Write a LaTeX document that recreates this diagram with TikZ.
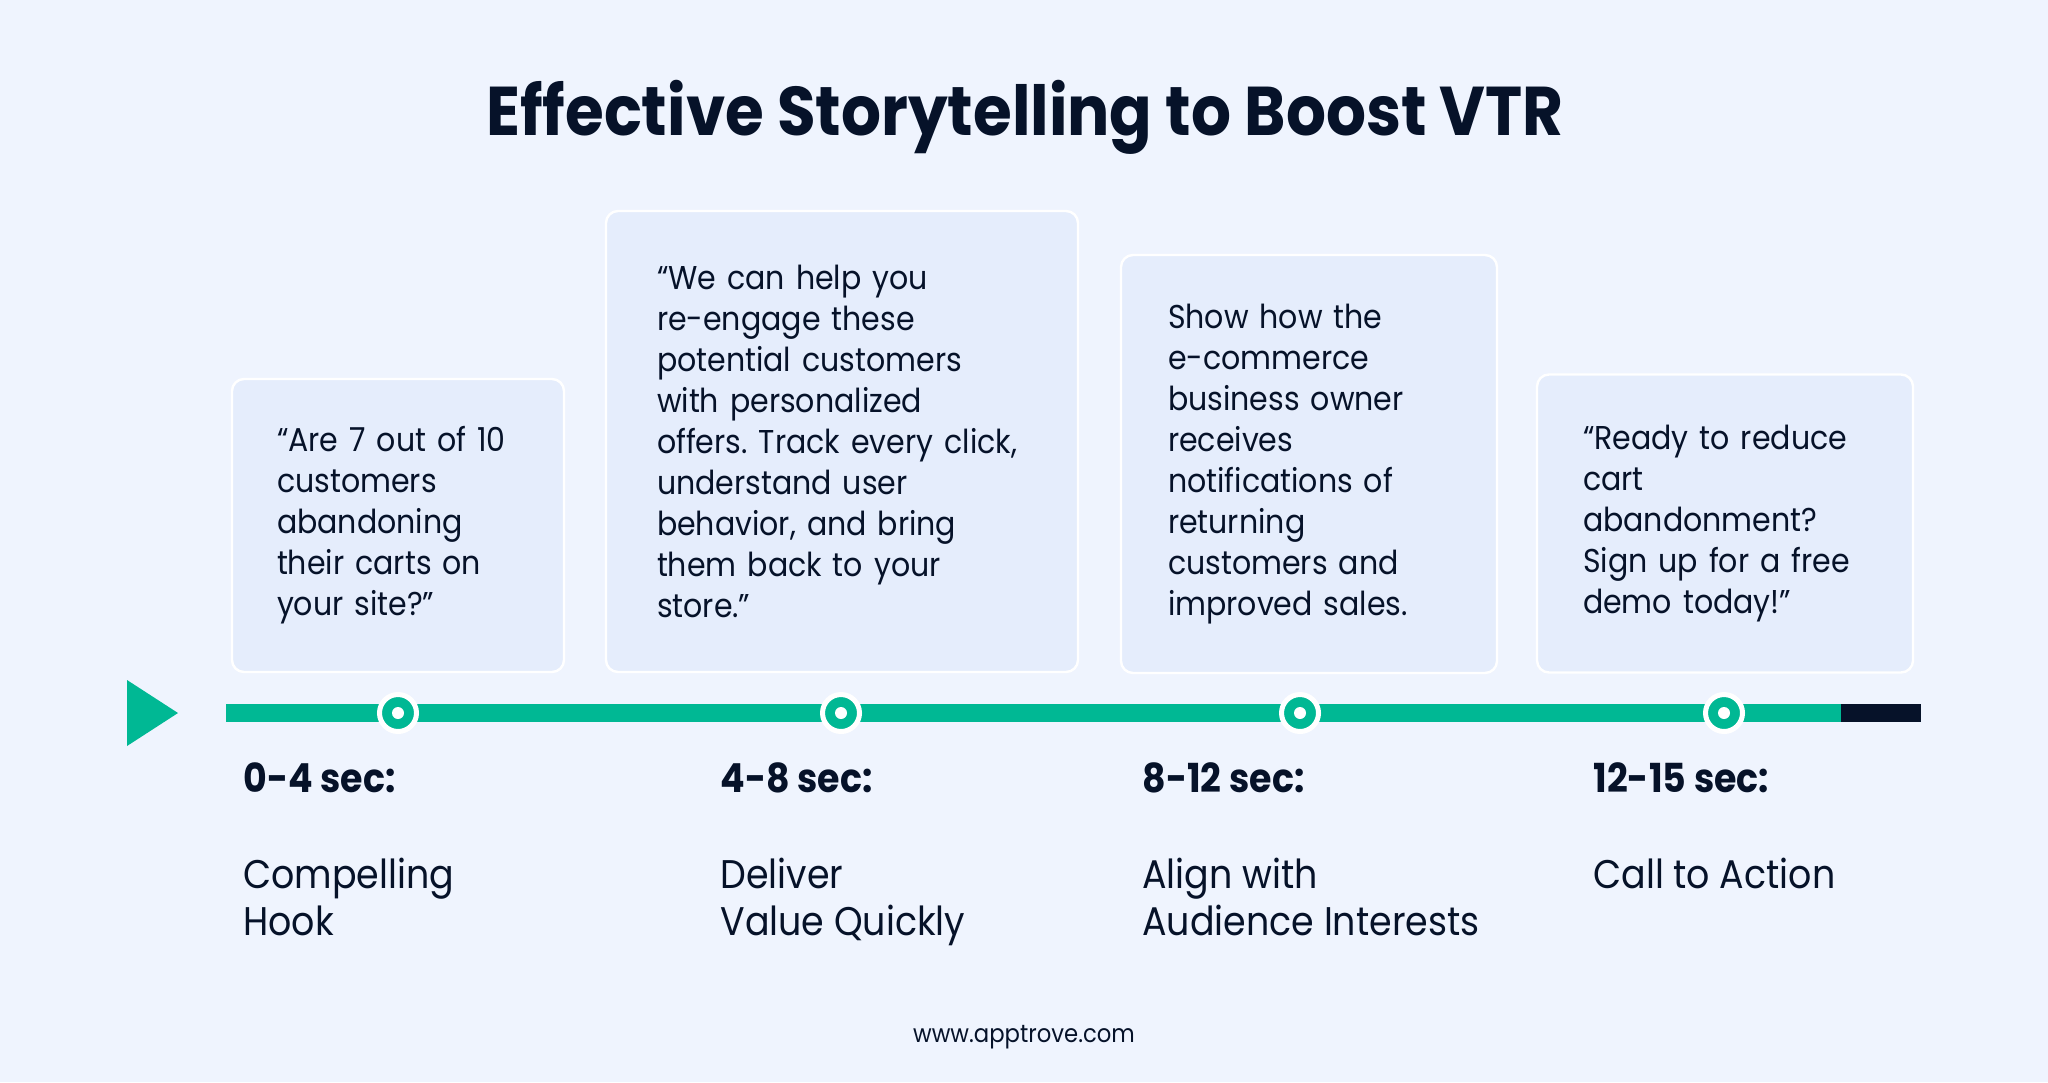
\documentclass[tikz,border=0pt]{standalone}
\usepackage{fontspec}
\setmainfont{Poppins}[FakeStretch=0.91]
\usetikzlibrary{positioning}

\definecolor{pagebg}{HTML}{EFF4FE}
\definecolor{cardbg}{HTML}{E5EDFC}
\definecolor{vtrgreen}{HTML}{00B894}
\definecolor{navy}{HTML}{061229}

\frenchspacing
\hyphenpenalty=10000
\exhyphenpenalty=10000

\begin{document}
\begin{tikzpicture}[
    x=0.5pt, y=-0.5pt,
    card/.style={rectangle, rounded corners=6pt, fill=cardbg, draw=white, line width=1.2pt,
      align=left, inner ysep=0pt, text=navy, font=\fontsize{16.5}{20.5}\selectfont},
    marker/.style={circle, fill=vtrgreen, draw=white, line width=2.5pt, minimum size=18.5pt, inner sep=0pt,
      path picture={\fill[white] (path picture bounding box.center) circle[radius=3pt];}},
    tlabel/.style={anchor=base west, inner sep=0pt, text=navy, font=\fontsize{20}{24}\selectfont\bfseries},
    dlabel/.style={anchor=base west, inner sep=0pt, align=left, text=navy, font=\fontsize{20}{23.5}\selectfont}
    ]
    \useasboundingbox (0,0) rectangle (2048,1082);
    \fill[pagebg] (0,0) rectangle (2048,1082);

    \node[anchor=base, text=navy, font=\fontsize{34.5}{40}\selectfont\bfseries] (title) at (1025,135)
      {Effective Storytelling to Boost VTR};

    % cards above the timeline
    \node[card, minimum width=166pt, minimum height=146.5pt, text width=121pt, inner xsep=22.5pt] (b1) at (398,525.5)
      {“Are 7 out of 10\\customers\\abandoning\\their carts on\\your site?”};
    \node[card, minimum width=236pt, minimum height=230.5pt, text width=185pt, inner xsep=25.5pt] (b2) at (842,441.5)
      {“We can help you\\re-engage these\\potential customers\\with personalized\\offers. Track every click,\\understand user\\behavior, and bring\\them back to your\\store.”};
    \node[card, minimum width=188pt, minimum height=209pt, text width=141pt, inner xsep=23.5pt] (b3) at (1309,464)
      {Show how the\\e-commerce\\business owner\\receives\\notifications of\\returning\\customers and\\improved sales.};
    \node[card, minimum width=188pt, minimum height=149pt, text width=142pt, inner xsep=23pt] (b4) at (1725,523.5)
      {“Ready to reduce\\cart\\abandonment?\\Sign up for a free\\demo today!”};

    % timeline
    \coordinate (start) at (226,713);
    \coordinate (split) at (1841,713);
    \coordinate (stop) at (1921,713);
    \fill[vtrgreen] (127,680) -- (178,713) -- (127,746) -- cycle;
    \draw[vtrgreen, line width=9pt] (start) -- (split);
    \draw[navy, line width=9pt] (split) -- (stop);

    \node[marker] (m1) at (398,713) {};
    \node[marker] (m2) at (841,713) {};
    \node[marker] (m3) at (1300,713) {};
    \node[marker] (m4) at (1724,713) {};

    % labels below (base of a two-line label is its last line)
    \node[tlabel] (t1) at (243,792) {0-4 sec:};
    \node[tlabel] (t2) at (720,792) {4-8 sec:};
    \node[tlabel] (t3) at (1142,792) {8-12 sec:};
    \node[tlabel] (t4) at (1593,792) {12-15 sec:};

    \node[dlabel] (d1) at (243,935) {Compelling\\Hook};
    \node[dlabel] (d2) at (720,935) {Deliver\\Value Quickly};
    \node[dlabel] (d3) at (1142,935) {Align with\\Audience Interests};
    \node[dlabel] (d4) at (1593,888) {Call to Action};

    \node[anchor=base, text=navy, font=\fontsize{12.5}{15}\selectfont] (url) at (1024,1042) {www.apptrove.com};
\end{tikzpicture}
\end{document}
